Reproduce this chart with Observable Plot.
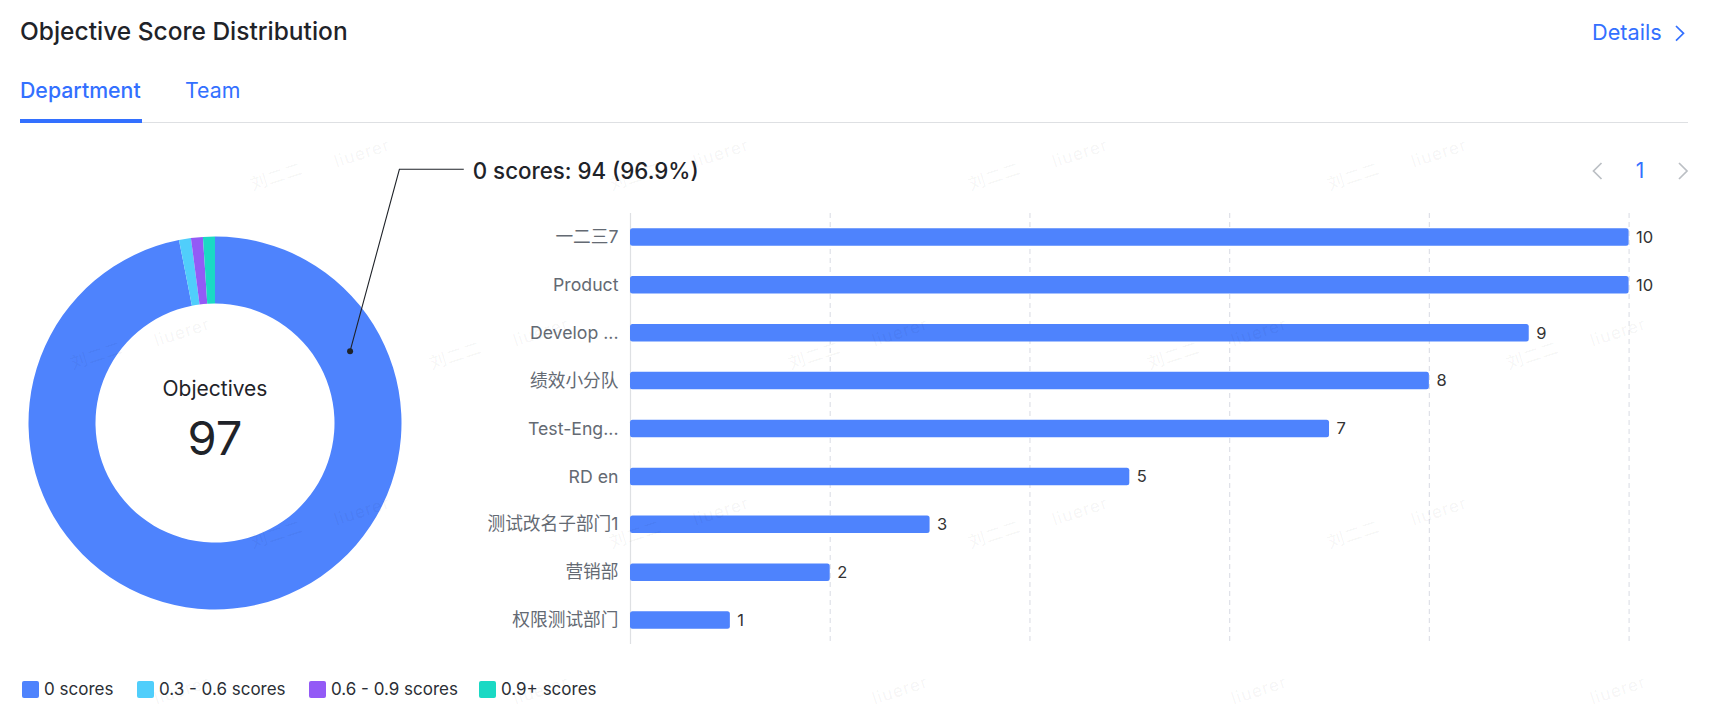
<!DOCTYPE html>
<html>
<head>
<meta charset="utf-8">
<script src="https://cdn.jsdelivr.net/npm/d3@7"></script>
<script src="https://cdn.jsdelivr.net/npm/@observablehq/plot@0.6"></script>
<style>
html,body{margin:0;padding:0;background:#fff;}
#root{position:relative;width:1714px;height:718px;overflow:hidden;font-family:Inter,"Noto Sans CJK SC",sans-serif;color:#1f2329;background:#fff;}
.abs{position:absolute;white-space:nowrap;}
#chart{position:absolute;left:0;top:130px;}
#legend{position:absolute;left:22px;top:672px;}
#legend > div{margin:0!important;font-family:Inter,"Noto Sans CJK SC",sans-serif!important;font-size:17px!important;color:#2b2f36!important;min-height:34px;display:flex;align-items:center;}
#legend span{display:inline-flex!important;align-items:center;margin:0!important;}
#legend span:nth-of-type(1){width:115px;}
#legend span:nth-of-type(2){width:172px;}
#legend span:nth-of-type(3){width:170px;}
#legend span > svg{margin-right:5px!important;}
#legend rect{rx:2px;ry:2px;}
#wm{position:absolute;left:0;top:0;width:1714px;height:718px;pointer-events:none;}
#wm span{position:absolute;transform:translate(-50%,-50%) rotate(-18deg);font-size:17px;letter-spacing:1px;color:rgba(0,0,0,0.055);white-space:nowrap;font-family:Inter,"Noto Sans CJK SC",sans-serif;}
</style>
</head>
<body>
<div id="root">
  <div class="abs" style="left:20px;top:16px;line-height:30px;font-size:24.5px;font-weight:500;color:#1f2329;">Objective Score Distribution</div>
  <div class="abs" style="left:1592px;top:19px;line-height:26px;font-size:21.7px;color:#3370ff;">Details</div>
  <svg class="abs" style="left:1674px;top:25px" width="12" height="17"><polyline points="2,1 9.5,8.3 2,15.6" fill="none" stroke="#3370ff" stroke-width="1.7"/></svg>
  <div class="abs" style="left:20px;top:77px;line-height:26px;font-size:21.3px;font-weight:500;color:#3370ff;">Department</div>
  <div class="abs" style="left:185px;top:77px;line-height:26px;font-size:21.3px;color:#3370ff;">Team</div>
  <div class="abs" style="left:20px;top:122px;width:1668px;height:1px;background:#dee0e3;"></div>
  <div class="abs" style="left:20px;top:119px;width:122px;height:3.5px;background:#3370ff;"></div>
  <svg class="abs" style="left:1591px;top:162px" width="13" height="19"><polyline points="10.5,1 2.5,9 10.5,17" fill="none" stroke="#bbbfc4" stroke-width="1.7"/></svg>
  <div class="abs" style="left:1630px;top:158px;width:20px;text-align:center;line-height:26px;font-size:21px;color:#3370ff;">1</div>
  <svg class="abs" style="left:1677px;top:162px" width="13" height="19"><polyline points="2,1 10,9 2,17" fill="none" stroke="#bbbfc4" stroke-width="1.7"/></svg>
  <div id="chart"></div>
  <div id="legend"></div>
  <div id="wm"></div>
</div>
<script>
// ---- data ----
const departments = ["一二三7", "Product", "Develop ...", "绩效小分队", "Test-Eng...", "RD en", "测试改名子部门1", "营销部", "权限测试部门"];
const objectiveCounts = [10, 10, 9, 8, 7, 5, 3, 2, 1];
const scoreBands = ["0 scores", "0.3 - 0.6 scores", "0.6 - 0.9 scores", "0.9+ scores"];
const scoreCounts = [94, 1, 1, 1];
const scoreColors = ["#4e83fd", "#50cefb", "#935af6", "#1ad9c4"];
const xTicks = [0, 2, 4, 6, 8, 10];
const centerLabel = "Objectives";

const FONT = 'Inter, "Noto Sans CJK SC", sans-serif';
const barData = departments.map((dept, i) => ({dept, value: objectiveCounts[i]}));
const scoreData = scoreBands.map((band, i) => ({band, count: scoreCounts[i]}));
const total = d3.sum(scoreCounts);
const colorScale = Plot.scale({color: {type: "ordinal", domain: scoreBands, range: scoreColors}});

function donutMark() {
  const cx = 215, cy = 293, rOuter = 186.5, rInner = 119.5;
  const g = d3.create("svg:g").attr("font-family", FONT).attr("text-anchor", "start");
  const arcs = d3.pie().sort(null).value(d => d.count)(scoreData);
  const arc = d3.arc().innerRadius(rInner).outerRadius(rOuter);
  g.append("g").attr("transform", `translate(${cx},${cy})`)
    .selectAll("path").data(arcs).join("path")
    .attr("d", arc)
    .attr("fill", d => colorScale.apply(d.data.band));
  // leader label for the main slice
  const main = arcs[0];
  const a = 62 * Math.PI / 180;
  const rm = (rInner + rOuter) / 2;
  const ax = cx + rm * Math.sin(a), ay = cy - rm * Math.cos(a);
  const ex = ax + 49.3, ey = cy - 253.7, lx = ex + 64.4;
  g.append("polyline")
    .attr("points", `${ax},${ay} ${ex},${ey} ${lx},${ey}`)
    .attr("fill", "none").attr("stroke", "#1f2329").attr("stroke-width", 1.1);
  g.append("circle").attr("cx", ax).attr("cy", ay).attr("r", 3).attr("fill", "#1f2329");
  const pct = (main.data.count / total * 100).toFixed(1);
  g.append("text").attr("x", lx + 9).attr("y", ey + 1.4).attr("dy", "0.35em")
    .attr("text-anchor", "start")
    .attr("font-size", 22.3).attr("font-weight", 500).attr("fill", "#1f2329")
    .text(`${main.data.band}: ${main.data.count} (${pct}%)`);
  g.append("text").attr("x", cx).attr("y", cy - 34).attr("dy", "0.35em")
    .attr("text-anchor", "middle").attr("font-size", 21).attr("fill", "#1f2329")
    .text(centerLabel);
  g.append("text").attr("x", cx).attr("y", cy + 15.3).attr("dy", "0.35em")
    .attr("text-anchor", "middle").attr("font-size", 47).attr("fill", "#1f2329")
    .text(total);
  return g.node();
}

const chart = Plot.plot({
  width: 1714,
  height: 540,
  marginLeft: 630,
  marginRight: 85.4,
  marginTop: 83,
  marginBottom: 26,
  style: {fontFamily: FONT, background: "transparent", overflow: "visible", color: "#646a73"},
  x: {domain: [0, 10], axis: null},
  y: {domain: departments, padding: 0, round: false, axis: null},
  marks: [
    Plot.ruleX(xTicks.filter(t => t > 0), {stroke: "#dfe1e8", strokeDasharray: "5,4", strokeWidth: 1.2}),
    Plot.ruleX([0], {stroke: "#dee0e3", strokeWidth: 1.2}),
    Plot.barX(barData, {y: "dept", x: "value", fill: scoreColors[0], insetTop: 15.2, insetBottom: 15.2, rx: 2.5}),
    Plot.text(barData, {y: "dept", x: "value", text: d => String(d.value), dx: 7, textAnchor: "start", fill: "#333333", fontSize: 16.5}),
    Plot.axisY({tickSize: 0, tickPadding: 12, fontSize: 17.7, label: null}),
    donutMark
  ]
});
document.getElementById("chart").appendChild(chart);

const legend = Plot.legend({
  color: {type: "ordinal", domain: scoreBands, range: scoreColors},
  swatchSize: 17,
  className: "lg"
});
document.getElementById("legend").appendChild(legend);

// faint tiled watermark (only instances lying fully inside the frame)
const wm = document.getElementById("wm");
function addMark(text, x, y) {
  if (x < 45 || x > 1669 || y < 25 || y > 693) return;
  const s = document.createElement("span");
  s.textContent = text;
  s.style.left = x + "px"; s.style.top = y + "px";
  wm.appendChild(s);
}
for (let r = 0; r < 5; r++) {
  const y = -4 + 179 * r;
  for (let k = -1; k < 6; k++) {
    const x = 96 + 359 * k + (r % 2 ? 180 : 0);
    addMark("刘二二", x, y);
    addMark("liuerer", x + 86, y - 22);
  }
}
</script>
</body>
</html>
